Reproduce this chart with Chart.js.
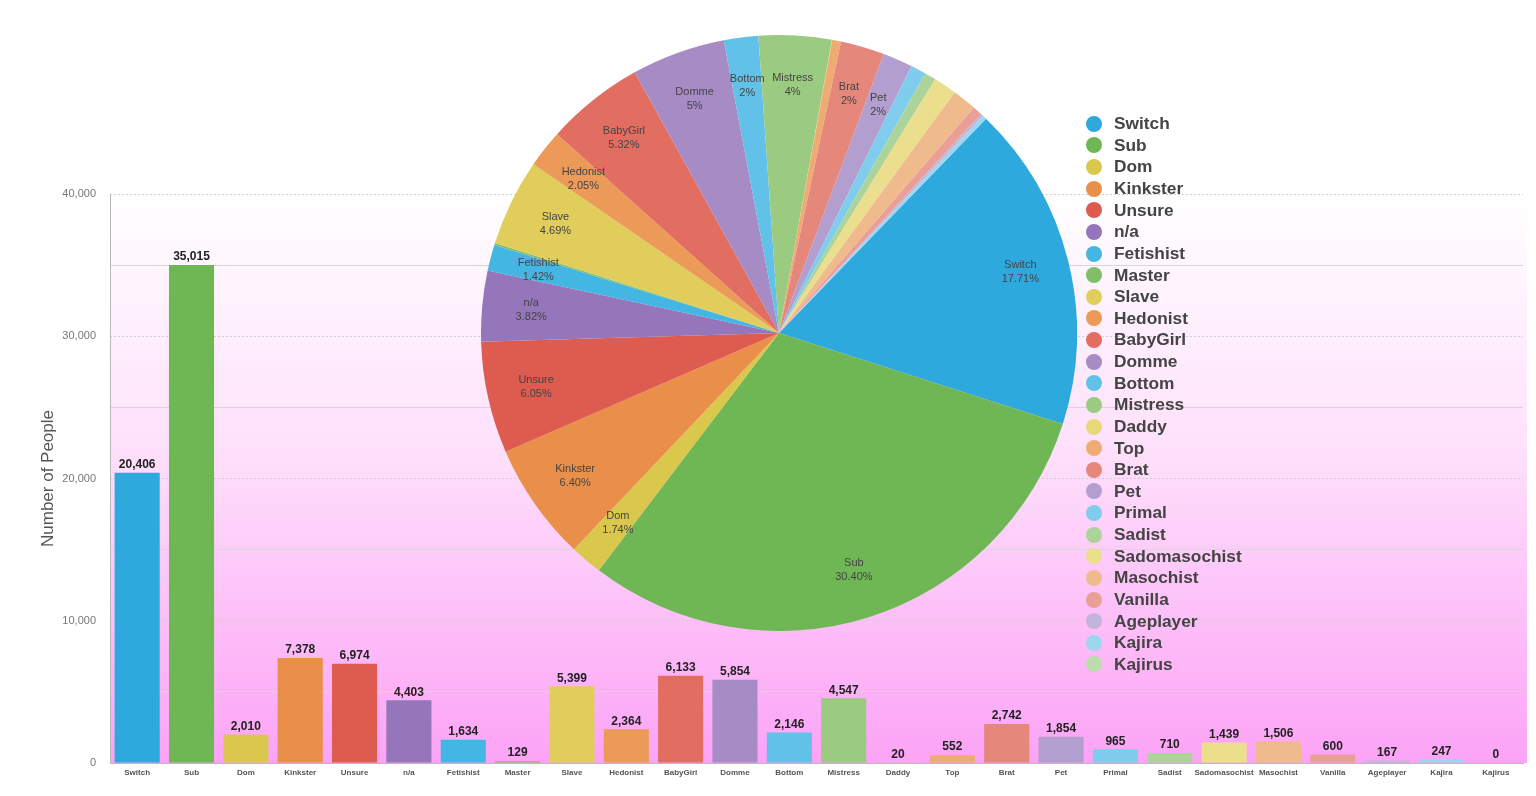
<!DOCTYPE html>
<html>
<head>
<meta charset="utf-8">
<script src="https://cdn.jsdelivr.net/npm/chart.js@4.4.0/dist/chart.umd.min.js"></script>
<style>
html, body { margin: 0; padding: 0; background: #fff; overflow: hidden; }
#wrap { position: relative; width: 1536px; height: 796px; font-family: "Liberation Sans", Arial, Helvetica, sans-serif; }
#bars { position: absolute; left: 0; top: 0; }
#pie { position: absolute; left: 481px; top: 35px; }
#legend { position: absolute; left: 1086px; top: 113px; }
.lg-row { display: flex; align-items: center; height: 21.64px; }
.lg-dot { width: 16px; height: 16px; border-radius: 50%; margin-right: 12px; flex-shrink: 0; }
.lg-txt { font-size: 17.3px; font-weight: bold; color: #444; line-height: 1; }
</style>
</head>
<body>
<div id="wrap">
    <canvas id="bars" width="1536" height="796" style="width:1536px;height:796px"></canvas>
    <canvas id="pie" width="596" height="596" style="width:596px;height:596px"></canvas>
    <div id="legend"></div>
</div>
<script>
/* Kink roles – bar chart with pie overlay */
const categories = ['Switch', 'Sub', 'Dom', 'Kinkster', 'Unsure', 'n/a', 'Fetishist', 'Master', 'Slave', 'Hedonist',
    'BabyGirl', 'Domme', 'Bottom', 'Mistress', 'Daddy', 'Top', 'Brat', 'Pet', 'Primal', 'Sadist',
    'Sadomasochist', 'Masochist', 'Vanilla', 'Ageplayer', 'Kajira', 'Kajirus'];

const counts = [20406, 35015, 2010, 7378, 6974, 4403, 1634, 129, 5399, 2364,
    6133, 5854, 2146, 4547, 20, 552, 2742, 1854, 965, 710,
    1439, 1506, 600, 167, 247, 0];

const colors = ['#2ea9dd', '#6fb655', '#d9c84c', '#e98f49', '#dd5b4f', '#9676bb', '#44b6e4', '#80bf67', '#e0cd5b', '#eb9a58',
    '#e26e62', '#a78bc5', '#62c1e8', '#9bca81', '#e7d87c', '#eeab72', '#e6877c', '#b29fd0', '#80cced', '#acd49a',
    '#ebdf8e', '#f0bb8c', '#ea9f96', '#c2b3d8', '#9ed6ef', '#bcdcac'];

// percentage text shown inside the pie ('' = slice has no label)
const pieTexts = ['17.71%', '30.40%', '1.74%', '6.40%', '6.05%', '3.82%', '1.42%', '', '4.69%', '2.05%',
    '5.32%', '5%', '2%', '4%', '', '', '2%', '2%', '', '',
    '', '', '', '', '', ''];

const yMax = 40000;
const yMajor = 10000;
const yMinor = 5000;

const FONT = '"Liberation Sans", Arial, Helvetica, sans-serif';
Chart.defaults.font.family = FONT;

const plotBg = {
    id: 'plotBg',
    beforeDraw(chart) {
        const { ctx, chartArea: a } = chart;
        const g = ctx.createLinearGradient(0, a.top, 0, a.bottom);
        g.addColorStop(0, '#ffffff');
        g.addColorStop(0.45, '#fee0fb');
        g.addColorStop(1, '#fca3f6');
        ctx.save();
        ctx.fillStyle = g;
        ctx.fillRect(a.left, a.top, a.right - a.left + 4, a.bottom - a.top);
        ctx.restore();
    }
};

const barValues = {
    id: 'barValues',
    afterDatasetsDraw(chart) {
        const ctx = chart.ctx;
        const meta = chart.getDatasetMeta(0);
        ctx.save();
        ctx.font = 'bold 12px ' + FONT;
        ctx.fillStyle = '#222';
        ctx.textAlign = 'center';
        ctx.textBaseline = 'bottom';
        meta.data.forEach((bar, i) => {
            ctx.fillText(counts[i].toLocaleString('en-US'), bar.x, bar.y - 2);
        });
        ctx.restore();
    }
};

const pieLabels = {
    id: 'pieLabels',
    afterDatasetsDraw(chart) {
        const ctx = chart.ctx;
        const meta = chart.getDatasetMeta(0);
        ctx.save();
        ctx.font = '11px ' + FONT;
        ctx.fillStyle = '#444';
        ctx.textAlign = 'center';
        ctx.textBaseline = 'middle';
        meta.data.forEach((arc, i) => {
            if (!pieTexts[i]) return;
            const p = arc.getProps(['x', 'y', 'startAngle', 'endAngle', 'outerRadius'], true);
            const mid = (p.startAngle + p.endAngle) / 2;
            const r = p.outerRadius * 0.835;
            const px = p.x + Math.cos(mid) * r;
            const py = p.y + Math.sin(mid) * r;
            ctx.fillText(categories[i], px, py - 7);
            ctx.fillText(pieTexts[i], px, py + 7);
        });
        ctx.restore();
    }
};

new Chart(document.getElementById('bars'), {
    type: 'bar',
    data: {
        labels: categories,
        datasets: [{
            data: counts,
            backgroundColor: colors,
            borderWidth: 0,
            categoryPercentage: 1,
            barPercentage: 0.83,
        }]
    },
    options: {
        responsive: false,
        animation: false,
        layout: { padding: { top: 194, right: 13, left: 0, bottom: 0 } },
        plugins: { legend: { display: false }, tooltip: { enabled: false } },
        scales: {
            x: {
                grid: { display: false, drawTicks: false },
                border: { color: '#bdb5bb' },
                ticks: { font: { size: 8, weight: 'bold' }, color: '#555', padding: 5, autoSkip: false, maxRotation: 0 },
                afterFit: s => { s.height = 33; },
            },
            y: {
                min: 0,
                max: yMax,
                ticks: {
                    stepSize: yMinor,
                    callback: v => v % yMajor === 0 ? v.toLocaleString('en-US') : '',
                    font: { size: 11 },
                    color: '#777',
                    padding: 14,
                },
                grid: {
                    drawTicks: false,
                    color: ctx => ctx.tick && ctx.tick.value % yMajor !== 0 ? '#dcd2da' : 'rgba(0,0,0,0)',
                },
                border: { color: '#bdb5bb' },
                title: { display: true, text: 'Number of People', font: { size: 17 }, color: '#555', padding: { top: 38, bottom: 0 } },
                afterFit: s => { s.width = 110; },
            },
            yDot: {
                position: 'right',
                min: 0,
                max: yMax,
                ticks: { display: false, stepSize: yMajor },
                grid: { drawTicks: false, color: '#cfcfcf' },
                border: { display: false, dash: [2, 2] },
                afterFit: s => { s.width = 0; },
            }
        }
    },
    plugins: [plotBg, barValues]
});

new Chart(document.getElementById('pie'), {
    type: 'pie',
    data: {
        labels: categories,
        datasets: [{ data: counts, backgroundColor: colors, borderWidth: 0, hoverOffset: 0 }]
    },
    options: {
        responsive: false,
        animation: false,
        rotation: 44,
        layout: { padding: 0 },
        plugins: { legend: { display: false }, tooltip: { enabled: false } },
    },
    plugins: [pieLabels]
});

// legend (built from the same arrays)
document.getElementById('legend').innerHTML = categories.map((c, i) =>
    `<div class="lg-row"><span class="lg-dot" style="background:${colors[i]}"></span><span class="lg-txt">${c}</span></div>`
).join('');
</script>
</body>
</html>
